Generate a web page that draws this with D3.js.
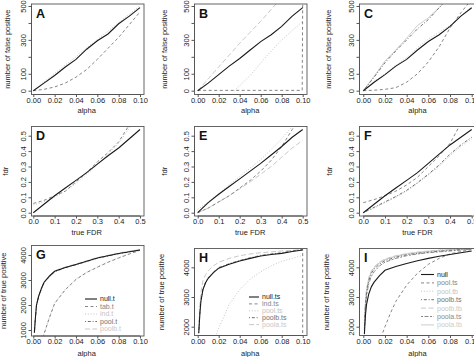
<!DOCTYPE html>
<html><head><meta charset="utf-8">
<script src="https://cdn.jsdelivr.net/npm/d3@7"></script>
<style>
body{margin:0;background:#fff;}
svg{display:block;font-family:"Liberation Sans",Arial,sans-serif;}
</style></head>
<body><svg id="c" width="474" height="357"></svg>
<script>
// ---------- data ----------
const alphaGrid = [0,0.01,0.02,0.03,0.04,0.05,0.06,0.07,0.08,0.09,0.1];
const fdrGrid = [0,0.05,0.1,0.15,0.2,0.25,0.3,0.35,0.4,0.45,0.5];
const alphaTP = [0.001,0.002,0.003,0.005,0.0075,0.01,0.015,0.02,0.03,0.04,0.05,0.06,0.07,0.08,0.09,0.1];

const xTicksAlpha = [0,0.02,0.04,0.06,0.08,0.1];
const xTickLabelsAlpha = ["0.00","0.02","0.04","0.06","0.08","0.10"];
const xTicksFDR = [0,0.1,0.2,0.3,0.4,0.5];
const xTickLabelsFDR = ["0.0","0.1","0.2","0.3","0.4","0.5"];
const yTicksFP = [0,100,200,300,400,500];
const yTickLabelsFP = ["0","100","","300","","500"];
const yTicksFdr = [0,0.1,0.2,0.3,0.4,0.5];
const yTickLabelsFdr = ["0.0","0.1","0.2","0.3","0.4","0.5"];
const yTicksTPG = [1000,2000,3000,4000];
const yTicksTPH = [2000,3000,4000];

// Panel A: number of false positives
const A_null = [0,45,90,140,185,245,295,335,395,440,490];
const A_tab  = [0,8,22,45,80,125,185,250,315,390,465];
const A_ind  = [0,52,102,152,200,252,302,352,402,452,502];
// Panel B
const B_null = [0,45,95,145,190,240,290,330,380,440,490];
const B_poolbX = [0,0.01,0.02,0.03,0.04,0.05,0.06,0.07,0.08];
const B_poolb  = [0,70,140,210,280,345,410,480,550];
const B_indX = [0,0.0995,0.1];
const B_ind  = [2,2,520];
const B_poolX = [0.035,0.05,0.065,0.08,0.1];
const B_pool  = [0,90,200,300,410];
// Panel C
const C_null  = [0,50,95,145,185,240,290,330,380,440,490];
const C_pool  = [0,85,175,240,310,385,430,490,560,620,680];
const C_poolb = [0,80,165,235,300,365,420,490,560,620,680];
const C_tab   = [0,3,8,18,50,100,170,260,370,460,540];
const C_ind   = [0,55,100,150,195,255,305,345,385,440,495];
// Panel D: fdr vs true FDR
const D_null = [0,0.055,0.11,0.16,0.21,0.26,0.315,0.37,0.42,0.48,0.54];
const D_pool = [0.06,0.08,0.11,0.14,0.2,0.26,0.33,0.39,0.46,0.57,0.68];
const D_ind  = [0.05,0.07,0.1,0.14,0.19,0.25,0.31,0.38,0.45,0.55,0.65];
// Panel E
const E_null  = [0,0.065,0.12,0.17,0.22,0.27,0.32,0.375,0.43,0.49,0.54];
const E_tab   = [0,0.03,0.07,0.11,0.16,0.21,0.27,0.34,0.43,0.54,0.65];
const E_poola = [0,0.03,0.07,0.11,0.155,0.2,0.25,0.3,0.36,0.42,0.47];
const E_pool  = [0.02,0.07,0.125,0.18,0.235,0.29,0.345,0.41,0.48,0.56,0.64];
// Panel F
const F_null  = [0,0.055,0.11,0.16,0.21,0.26,0.32,0.38,0.44,0.49,0.54];
const F_tab   = [0.065,0.085,0.11,0.14,0.18,0.23,0.3,0.37,0.45,0.58,0.7];
const F_pool  = [0,0.03,0.065,0.1,0.14,0.19,0.245,0.3,0.37,0.43,0.48];
const F_poolb = [0,0.035,0.07,0.105,0.145,0.195,0.25,0.31,0.38,0.44,0.49];
// Panel G: number of true positives
const G_null  = [900,1500,2000,2350,2650,2900,3150,3350,3500,3620,3750,3880,3970,4060,4130,4200];
const G_pool  = [880,1480,1980,2330,2630,2880,3130,3330,3490,3610,3740,3870,3960,4050,4120,4190];
const G_poolb = [920,1520,2020,2370,2670,2920,3170,3370,3520,3640,3770,3900,3990,4080,4150,4220];
const G_lowX  = [0.009,0.01,0.015,0.02,0.03,0.04,0.05,0.06,0.07,0.08,0.09,0.1];
const G_ind   = [700,850,1500,2080,2630,3040,3310,3520,3720,3890,4050,4200];
const G_tab   = [680,830,1480,2060,2610,3020,3300,3510,3710,3880,4040,4190];
// Panel H
const H_null  = [1780,2400,2840,3250,3480,3630,3820,3970,4100,4210,4300,4380,4430,4470,4530,4580];
const H_poolb = [1800,2420,2860,3270,3500,3650,3840,3990,4120,4230,4320,4400,4450,4490,4550,4600];
const H_poola = [1900,2700,3150,3550,3750,3880,4050,4170,4300,4390,4450,4490,4520,4550,4570,4600];
const H_poolX = [0.018,0.02,0.03,0.04,0.05,0.06,0.07,0.08,0.09,0.1];
const H_pool  = [1750,1950,2750,3250,3600,3850,4050,4200,4300,4400];
const H_indX  = [0.1,0.1];
const H_ind   = [1600,4600];
// Panel I
const I_null   = [1750,2400,2750,3100,3350,3500,3720,3900,4030,4130,4220,4300,4370,4430,4490,4550];
const I_poolTsX = [0.018,0.02,0.025,0.03,0.04,0.05,0.06,0.07,0.08,0.09,0.1];
const I_poolTs = [1800,2000,2450,2850,3400,3800,4100,4300,4450,4530,4600];
const I_poolTb  = [2000,2800,3200,3600,3850,3980,4150,4250,4370,4440,4490,4530,4560,4590,4610,4640];
const I_poolbTs = [1950,2750,3150,3550,3800,3940,4110,4220,4340,4420,4470,4510,4540,4570,4600,4630];
const I_poolbTb = [2050,2850,3250,3650,3880,4010,4180,4280,4390,4460,4510,4550,4580,4600,4620,4650];
const I_poolaTs = [1900,2650,3050,3450,3700,3850,4050,4170,4300,4390,4450,4490,4520,4550,4580,4610];
const I_poolaTb = [2020,2820,3220,3620,3860,3990,4160,4260,4380,4450,4500,4540,4570,4595,4615,4645];

// legends
const legG = ["null.t","tab.t","ind.t","pool.t","poolb.t"];
const legH = ["null.ts","ind.ts","pool.ts","poolb.ts","poola.ts"];
const legI = ["null","pool.ts","pool.tb","poolb.ts","poolb.tb","poola.ts","poola.tb"];

// ---------- styles ----------
const STY = {
  solid:   {c:"#1a1a1a", d:null, w:1.1},
  dashed:  {c:"#858585", d:"3,2.5", w:1},
  dotted:  {c:"#c4c4c4", d:"1,1.8", w:1},
  dotdash: {c:"#707070", d:"1,1.8,3,1.8", w:1},
  longdash:{c:"#c8c8c8", d:"5,2.5", w:1},
  twodash: {c:"#8a8a8a", d:"2,1.5,4,1.5", w:1},
  lsolid:  {c:"#cccccc", d:null, w:1}
};

const svg = d3.select("#c");
const FONT = 7.5;

function panel(p){
  const x = d3.scaleLinear().domain(p.xd).range(p.xr);
  const y = d3.scaleLinear().domain(p.yd).range(p.yr);
  const [bx0,bx1] = p.bx, [by0,by1] = p.by;
  const g = svg.append("g");
  const id = "clip"+p.letter;
  g.append("clipPath").attr("id",id).append("rect")
    .attr("x",bx0).attr("y",by0).attr("width",bx1-bx0).attr("height",by1-by0);
  const lg = g.append("g").attr("clip-path",`url(#${id})`);
  const line = d3.line().x(d=>x(d[0])).y(d=>y(d[1]));
  p.series.forEach(s=>{
    const st = STY[s.s];
    lg.append("path").attr("d", line(d3.zip(s.x, s.y)))
      .attr("fill","none").attr("stroke",st.c).attr("stroke-width",st.w)
      .attr("stroke-dasharray",st.d);
  });
  // box
  g.append("rect").attr("x",bx0).attr("y",by0).attr("width",bx1-bx0).attr("height",by1-by0)
    .attr("fill","none").attr("stroke","#555").attr("stroke-width",0.9);
  // x axis
  const xa = d3.axisBottom(x).tickValues(p.xt).tickFormat((d,i)=>p.xl[i]).tickSize(2.5).tickPadding(0.5);
  const gx = g.append("g").attr("transform",`translate(0,${by1})`).call(xa);
  gx.select(".domain").attr("d",`M${x(p.xt[0])},0H${x(p.xt[p.xt.length-1])}`).attr("stroke","#555");
  gx.selectAll("line").attr("stroke","#555");
  gx.selectAll("text").attr("font-size",FONT).attr("fill","#222").attr("font-family",null);
  // y axis
  const ya = d3.axisLeft(y).tickValues(p.yt).tickFormat((d,i)=>p.yl[i]).tickSize(3).tickPadding(0);
  const gy = g.append("g").attr("transform",`translate(${bx0},0)`).call(ya);
  gy.select(".domain").attr("d",`M0,${y(p.yt[0])}V${y(p.yt[p.yt.length-1])}`).attr("stroke","#555");
  gy.selectAll("line").attr("stroke","#555");
  gy.selectAll("text").attr("font-size",FONT).attr("fill","#222").attr("font-family",null)
    .attr("x",null).attr("dy",null)
    .attr("transform","translate(-5.5,0) rotate(-90)").attr("text-anchor","middle");
  // titles
  g.append("text").attr("x",(x.range()[0]+x.range()[1])/2).attr("y",p.xTitleY)
    .attr("text-anchor","middle").attr("font-size",FONT).attr("fill","#222").text(p.xTitle);
  g.append("text").attr("transform",`translate(${p.yTitleX},${(by0+by1)/2}) rotate(-90)`)
    .attr("text-anchor","middle").attr("font-size",FONT).attr("fill","#222").text(p.yTitle);
  g.append("text").attr("x",bx0+4.5).attr("y",by0+13.5).attr("font-size",12.5)
    .attr("font-weight","bold").attr("fill","#111").text(p.letter);
  if(p.legend){
    const L = p.legend;
    L.labels.forEach((t,i)=>{
      const st = STY[L.styles[i]];
      const yy = L.y0 + i*L.dy;
      g.append("line").attr("x1",L.x0).attr("x2",L.x0+L.len).attr("y1",yy).attr("y2",yy)
        .attr("stroke",st.c).attr("stroke-width",st.w).attr("stroke-dasharray",st.d);
      g.append("text").attr("x",L.x0+L.len+3).attr("y",yy+2.4).attr("font-size",L.fs)
        .attr("fill",st.c).text(t);
    });
  }
}

// layout
const colX = [[33.3,140],[197.7,302.7],[363.3,471.7]];
const colBox = [[31.5,144],[194.5,307],[359.5,476]];
const yTitleXs = [[10,166.5,330.5],[8,166.5,331.5],[6,163.5,328.5]];

const mk = (xs,ys,s)=>({x:xs,y:ys,s:s});

const panels = [
 {letter:"A", col:0, row:0, series:[mk(alphaGrid,A_ind,"dotted"),mk(alphaGrid,A_tab,"dashed"),mk(alphaGrid,A_null,"solid")]},
 {letter:"B", col:1, row:0, series:[mk(B_poolbX,B_poolb,"longdash"),mk(B_poolX,B_pool,"dotted"),mk(B_indX,B_ind,"dashed"),mk(alphaGrid,B_null,"solid")]},
 {letter:"C", col:2, row:0, series:[mk(alphaGrid,C_pool,"lsolid"),mk(alphaGrid,C_poolb,"dotdash"),mk(alphaGrid,C_tab,"dashed"),mk(alphaGrid,C_ind,"dotted"),mk(alphaGrid,C_null,"solid")]},
 {letter:"D", col:0, row:1, series:[mk(fdrGrid,D_ind,"dotted"),mk(fdrGrid,D_pool,"dashed"),mk(fdrGrid,D_null,"solid")]},
 {letter:"E", col:1, row:1, series:[mk(fdrGrid,E_pool,"dotted"),mk(fdrGrid,E_poola,"longdash"),mk(fdrGrid,E_tab,"dashed"),mk(fdrGrid,E_null,"solid")]},
 {letter:"F", col:2, row:1, series:[mk(fdrGrid,F_pool,"dotted"),mk(fdrGrid,F_poolb,"dotdash"),mk(fdrGrid,F_tab,"dashed"),mk(fdrGrid,F_null,"solid")]},
 {letter:"G", col:0, row:2, series:[mk(G_lowX,G_ind,"dotted"),mk(G_lowX,G_tab,"dashed"),mk(alphaTP,G_poolb,"longdash"),mk(alphaTP,G_pool,"dotdash"),mk(alphaTP,G_null,"solid")],
   legend:{labels:legG, styles:["solid","dashed","dotted","dotdash","longdash"], x0:85, len:12, y0:299, dy:7.5, fs:7}},
 {letter:"H", col:1, row:2, series:[mk(H_poolX,H_pool,"dotted"),mk(alphaTP,H_poola,"longdash"),mk(H_indX,H_ind,"dashed"),mk(alphaTP,H_poolb,"dotdash"),mk(alphaTP,H_null,"solid")],
   legend:{labels:legH, styles:["solid","dashed","dotted","dotdash","longdash"], x0:249, len:10, y0:297, dy:6.9, fs:7}},
 {letter:"I", col:2, row:2, series:[mk(alphaTP,I_poolaTb,"lsolid"),mk(alphaTP,I_poolbTb,"longdash"),mk(alphaTP,I_poolTb,"dotted"),mk(alphaTP,I_poolaTs,"twodash"),mk(alphaTP,I_poolbTs,"dotdash"),mk(I_poolTsX,I_poolTs,"dashed"),mk(alphaTP,I_null,"solid")],
   legend:{labels:legI, styles:["solid","dashed","dotted","dotdash","longdash","twodash","lsolid"], x0:421, len:13, y0:274.5, dy:8.4, fs:7}}
];

const rows = [
  {xd:[0,0.1], xt:xTicksAlpha, xl:xTickLabelsAlpha, by:[4,94.5], xTitle:"alpha", xTitleY:112.5, yTitle:"number of false positive"},
  {xd:[0,0.5], xt:xTicksFDR, xl:xTickLabelsFDR, by:[126.5,216], xTitle:"true FDR", xTitleY:234.5, yTitle:"fdr"},
  {xd:[0,0.1], xt:xTicksAlpha, xl:xTickLabelsAlpha, by:[246,336], xTitle:"alpha", xTitleY:355.5, yTitle:"number of true positive"}
];

panels.forEach(pp=>{
  const r = rows[pp.row];
  const p = Object.assign({}, r, pp);
  p.xr = colX[pp.col];
  p.bx = colBox[pp.col];
  p.yTitleX = yTitleXs[pp.row][pp.col];
  if(pp.row===0){ p.yd=[0,500]; p.yr=[90.7,6]; p.yt=yTicksFP; p.yl=yTickLabelsFP; }
  else if(pp.row===1){ p.yd=[0,0.5]; p.yr=[212.7,135.7]; p.yt=yTicksFdr; p.yl=yTickLabelsFdr; }
  else if(pp.col===0){ p.yd=[1000,4000]; p.yr=[330,255]; p.yt=yTicksTPG; p.yl=yTicksTPG.map(String); p.by=[245.5,336]; }
  else { p.yd=[2000,4000]; p.yr=[326.7,267.3]; p.yt=yTicksTPH; p.yl=yTicksTPH.map(String); p.by=[248.5,335.5]; }
  panel(p);
});
</script></body></html>
